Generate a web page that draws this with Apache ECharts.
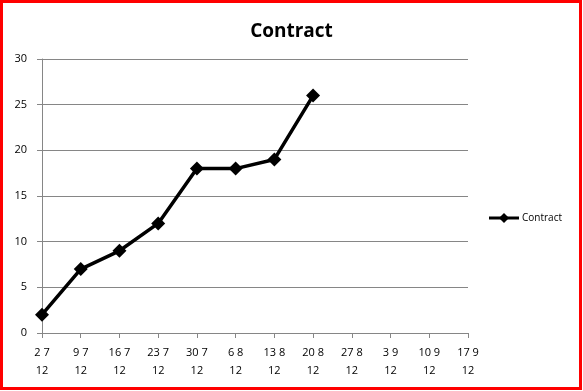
<!DOCTYPE html>
<html><head><meta charset="utf-8">
<script src="https://cdn.jsdelivr.net/npm/echarts@6/dist/echarts.min.js"></script>
<style>
html,body{margin:0;padding:0;background:#fff;}
#wrap{position:absolute;left:0;top:0;width:582px;height:390px;border:3px solid #ff0000;box-sizing:border-box;}
#chart{position:absolute;left:0;top:0;width:583px;height:391px;}
</style></head>
<body>
<div id="chart"></div>
<div id="wrap"></div>
<script>
const categories = ["2 7\n12","9 7\n12","16 7\n12","23 7\n12","30 7\n12","6 8\n12","13 8\n12","20 8\n12","27 8\n12","3 9\n12","10 9\n12","17 9\n12"];
const contract = [2,7,9,12,18,18,19,26,null,null,null,null];
const yTicks = {min:0,max:30,interval:5};
const font = "'Open Sans', 'Noto Sans', sans-serif";
const chart = echarts.init(document.getElementById('chart'));
chart.setOption({
  animation:false,
  backgroundColor:'#fff',
  title:{text:'Contract',left:'center',top:17,textStyle:{fontFamily:font,fontSize:19,fontWeight:'bold',color:'#000'}},
  legend:{right:16,top:208,itemWidth:30,itemHeight:10,
    data:[{name:'Contract',icon:'image://data:image/svg+xml;utf8,'+encodeURIComponent('<svg xmlns="http://www.w3.org/2000/svg" width="30" height="10"><line x1="0" y1="5" x2="30" y2="5" stroke="black" stroke-width="3"/><path d="M15,0 L20,5 L15,10 L10,5 Z" fill="black"/></svg>')}],
    itemGap:2,textStyle:{fontFamily:font,fontSize:10,color:'#000',padding:[0,0,0,-2]}},
  grid:{left:42,right:115,top:59,bottom:58,containLabel:false},
  xAxis:{type:'category',data:categories,boundaryGap:false,
    axisLine:{lineStyle:{color:'#868686',width:1}},
    axisTick:{show:true,alignWithLabel:true,length:5,lineStyle:{color:'#868686'}},
    axisLabel:{interval:0,fontFamily:font,fontSize:11,color:'#000',lineHeight:18,margin:11}},
  yAxis:{type:'value',min:yTicks.min,max:yTicks.max,interval:yTicks.interval,
    axisLine:{show:true,lineStyle:{color:'#868686'}},
    axisTick:{show:true,length:5,lineStyle:{color:'#868686'}},
    splitLine:{lineStyle:{color:'#868686',width:1}},
    axisLabel:{fontFamily:font,fontSize:11,color:'#000',margin:15}},
  series:[{name:'Contract',type:'line',data:contract,symbol:'diamond',symbolSize:14,
    lineStyle:{color:'#000',width:3.5},itemStyle:{color:'#000'},connectNulls:false}]
});
</script>
</body></html>
